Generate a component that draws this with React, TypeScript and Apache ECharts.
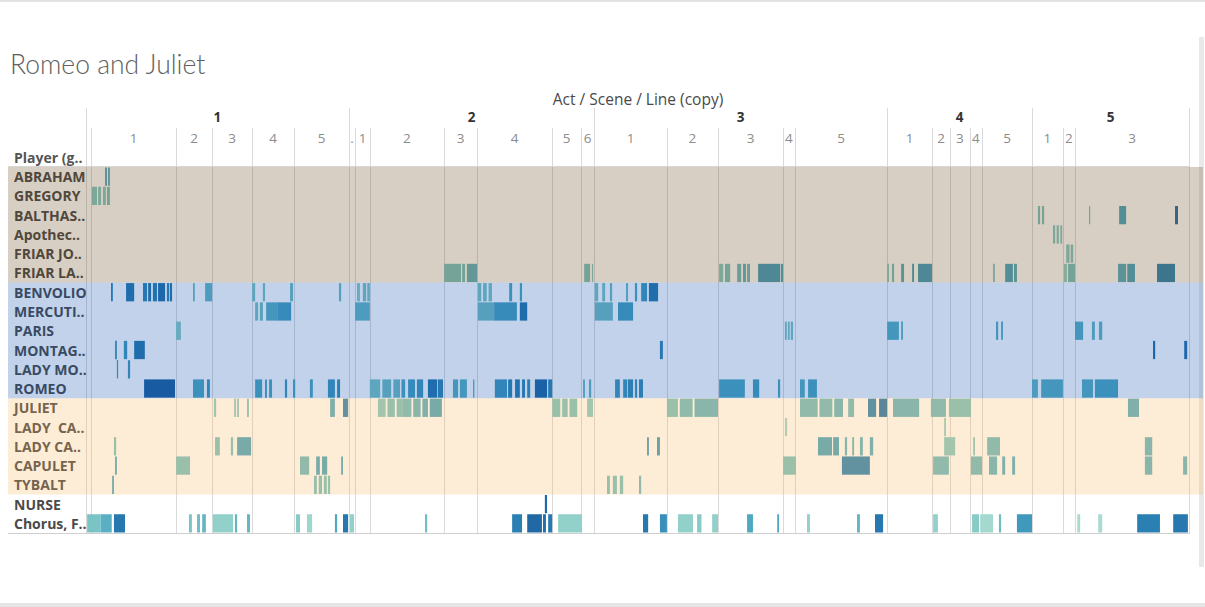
import React, { useEffect, useRef } from 'react';
import * as echarts from 'echarts';

// ---------- DATA ----------
const actLabels = ['1', '2', '3', '4', '5'];
const sceneActs = [1, 1, 1, 1, 1, 1, 2, 2, 2, 2, 2, 2, 2, 3, 3, 3, 3, 3, 4, 4, 4, 4, 4, 5, 5, 5];
const sceneLabels = ['', '1', '2', '3', '4', '5', '.', '1', '2', '3', '4', '5', '6', '1', '2', '3', '4', '5', '1', '2', '3', '4', '5', '1', '2', '3'];
const sceneLines = [14, 231, 98, 109, 114, 149, 17, 40, 202, 90, 204, 78, 36, 198, 139, 177, 32, 251, 122, 49, 54, 33, 136, 84, 33, 310];

const players = ['ABRAHAM', 'GREGORY', 'BALTHAS..', 'Apothec..', 'FRIAR JO..', 'FRIAR LA..', 'BENVOLIO', 'MERCUTI..', 'PARIS', 'MONTAG..', 'LADY MO..', 'ROMEO', 'JULIET', 'LADY  CA..', 'LADY CA..', 'CAPULET', 'TYBALT', 'NURSE', 'Chorus, F..'];
const playerHouse = ['Other', 'Other', 'Other', 'Other', 'Other', 'Other', 'Montague', 'Montague', 'Montague', 'Montague', 'Montague', 'Montague', 'Capulet', 'Capulet', 'Capulet', 'Capulet', 'Capulet', 'None', 'None'];

// [startLine, endLine, intensity]
const abraham = [[52, 57, 0.5], [60, 65, 0.45]];
const gregory = [[16, 30, 0.25], [33, 41, 0.25], [46, 54, 0.25], [57, 65, 0.3]];
const balthasar = [[2589, 2595, 0.3], [2600, 2606, 0.3], [2728, 2731, 0.3], [2810, 2829, 0.5], [2962, 2970, 0.85]];
const apothecary = [[2630, 2636, 0.25], [2640, 2646, 0.25], [2650, 2655, 0.25]];
const friarJohn = [[2666, 2675, 0.25], [2678, 2685, 0.25]];
const friarLaurence = [[974, 1020, 0.3], [1023, 1031, 0.3], [1036, 1064, 0.4], [1355, 1371, 0.3], [1376, 1379, 0.25], [1722, 1733, 0.25], [1738, 1752, 0.3], [1771, 1782, 0.35], [1787, 1795, 0.4], [1798, 1806, 0.35], [1828, 1888, 0.55], [1890, 1896, 0.5], [2179, 2184, 0.25], [2192, 2198, 0.3], [2217, 2225, 0.45], [2247, 2252, 0.55], [2263, 2301, 0.55], [2467, 2472, 0.25], [2500, 2521, 0.5], [2524, 2532, 0.45], [2660, 2668, 0.2], [2671, 2690, 0.3], [2807, 2829, 0.45], [2832, 2853, 0.5], [2913, 2962, 0.7]];
const benvolio = [[68, 73, 0.7], [109, 131, 0.8], [155, 166, 0.7], [169, 177, 0.8], [182, 193, 0.75], [196, 215, 0.85], [220, 226, 0.7], [228, 234, 0.8], [291, 296, 0.35], [324, 343, 0.4], [452, 460, 0.3], [481, 487, 0.3], [555, 563, 0.35], [688, 694, 0.35], [737, 745, 0.25], [753, 762, 0.3], [765, 772, 0.3], [1066, 1075, 0.3], [1080, 1090, 0.3], [1095, 1104, 0.3], [1151, 1159, 0.5], [1180, 1186, 0.5], [1384, 1393, 0.3], [1404, 1412, 0.3], [1425, 1431, 0.35], [1469, 1474, 0.4], [1493, 1499, 0.5], [1510, 1526, 0.6], [1531, 1556, 0.8]];
const mercutio = [[460, 468, 0.3], [473, 481, 0.35], [490, 520, 0.45], [520, 558, 0.55], [732, 772, 0.4], [1066, 1110, 0.35], [1110, 1172, 0.55], [1180, 1200, 0.8], [1384, 1433, 0.35], [1447, 1488, 0.55]];
const paris = [[245, 258, 0.25], [1901, 1906, 0.3], [1909, 1914, 0.3], [1917, 1923, 0.3], [2179, 2211, 0.45], [2217, 2222, 0.4], [2475, 2481, 0.45], [2489, 2494, 0.45], [2690, 2712, 0.45], [2736, 2744, 0.4], [2755, 2764, 0.4]];
const montague = [[79, 84, 0.6], [103, 112, 0.6], [131, 160, 0.8], [1561, 1569, 0.7], [2902, 2908, 0.85], [2987, 2995, 0.85]];
const ladyMontague = [[84, 87, 0.6], [114, 120, 0.6]];
const romeo = [[158, 242, 0.95], [291, 321, 0.5], [329, 337, 0.6], [460, 479, 0.5], [487, 492, 0.55], [498, 506, 0.5], [541, 547, 0.6], [563, 569, 0.5], [609, 617, 0.5], [658, 677, 0.6], [683, 691, 0.65], [772, 800, 0.3], [806, 830, 0.35], [836, 854, 0.35], [858, 868, 0.5], [876, 895, 0.55], [900, 917, 0.6], [930, 955, 0.8], [957, 971, 0.7], [998, 1012, 0.45], [1017, 1036, 0.45], [1053, 1055, 0.5], [1112, 1145, 0.6], [1148, 1159, 0.7], [1167, 1180, 0.75], [1186, 1194, 0.7], [1200, 1208, 0.65], [1221, 1254, 0.9], [1257, 1268, 0.7], [1352, 1357, 0.4], [1368, 1374, 0.4], [1439, 1452, 0.6], [1461, 1472, 0.6], [1474, 1488, 0.65], [1493, 1499, 0.6], [1504, 1515, 0.65], [1722, 1792, 0.5], [1814, 1831, 0.55], [1882, 1888, 0.5], [1942, 1955, 0.45], [1964, 1988, 0.5], [2573, 2589, 0.4], [2598, 2657, 0.45], [2709, 2739, 0.45], [2744, 2807, 0.5]];
const juliet = [[348, 354, 0.25], [403, 408, 0.25], [411, 416, 0.25], [438, 443, 0.3], [664, 677, 0.45], [699, 713, 0.7], [794, 815, 0.25], [820, 840, 0.3], [845, 860, 0.3], [860, 885, 0.35], [890, 910, 0.4], [915, 930, 0.45], [935, 968, 0.5], [1268, 1290, 0.3], [1295, 1310, 0.3], [1315, 1336, 0.3], [1363, 1379, 0.25], [1580, 1610, 0.3], [1615, 1650, 0.35], [1655, 1719, 0.4], [1942, 1990, 0.35], [1995, 2030, 0.35], [2035, 2059, 0.4], [2073, 2089, 0.35], [2127, 2149, 0.7], [2157, 2179, 0.8], [2195, 2266, 0.4], [2298, 2339, 0.35], [2347, 2407, 0.3], [2834, 2864, 0.45]];
const ladyCapuletA = [[1901, 1907, 0.15], [2334, 2339, 0.2]];
const ladyCapuletB = [[76, 82, 0.3], [351, 364, 0.3], [394, 400, 0.3], [411, 449, 0.5], [1526, 1531, 0.6], [1553, 1561, 0.6], [1991, 2029, 0.5], [2032, 2048, 0.5], [2064, 2070, 0.4], [2084, 2089, 0.4], [2105, 2113, 0.4], [2132, 2141, 0.45], [2334, 2364, 0.25], [2413, 2418, 0.25], [2451, 2486, 0.35], [2880, 2900, 0.4]];
const capulet = [[79, 84, 0.5], [245, 283, 0.3], [582, 607, 0.35], [626, 636, 0.5], [642, 656, 0.5], [694, 699, 0.5], [1896, 1931, 0.3], [2056, 2132, 0.7], [2304, 2347, 0.35], [2407, 2437, 0.35], [2456, 2478, 0.4], [2492, 2500, 0.45], [2519, 2527, 0.45], [2880, 2900, 0.4], [2984, 2995, 0.4]];
const tybalt = [[71, 76, 0.5], [620, 628, 0.3], [633, 642, 0.3], [647, 655, 0.3], [658, 664, 0.3], [1417, 1425, 0.3], [1433, 1444, 0.3], [1452, 1461, 0.3], [1504, 1510, 0.35]];
const nurse = [[1248, 1254, 0.9]];
const chorus = [[3, 40, 0.3], [40, 70, 0.45], [76, 106, 0.8], [280, 288, 0.3], [302, 310, 0.35], [316, 326, 0.4], [345, 400, 0.2], [405, 411, 0.4], [438, 446, 0.4], [571, 582, 0.25], [601, 615, 0.15], [677, 683, 0.5], [699, 713, 0.8], [718, 729, 0.2], [922, 928, 0.35], [1159, 1186, 0.75], [1200, 1240, 0.9], [1243, 1251, 0.85], [1257, 1268, 0.8], [1284, 1349, 0.2], [1515, 1529, 0.8], [1561, 1580, 0.65], [1610, 1651, 0.2], [1662, 1674, 0.25], [1703, 1719, 0.2], [1798, 1814, 0.5], [1880, 1885, 0.5], [1961, 1969, 0.2], [2097, 2105, 0.4], [2146, 2168, 0.8], [2304, 2317, 0.2], [2410, 2429, 0.25], [2432, 2467, 0.12], [2483, 2489, 0.35], [2532, 2573, 0.6], [2696, 2704, 0.1], [2753, 2764, 0.1], [2859, 2921, 0.75], [2957, 2997, 0.8]];

const speeches = [abraham, gregory, balthasar, apothecary, friarJohn, friarLaurence, benvolio, mercutio, paris, montague, ladyMontague, romeo, juliet, ladyCapuletA, ladyCapuletB, capulet, tybalt, nurse, chorus];

// ---------- STYLE ----------
const FONT = 'Lato, "Open Sans", sans-serif';
const LABEL_FONT = '"Open Sans", Lato, sans-serif';
const palette = ['#c0e6d8', '#86cbc6', '#4ea8c2', '#2a7fb3', '#1b5a9c'];
const houseColor: Record<string, string> = { Other: '#633f13', Montague: '#074bab', Capulet: '#f7b35b' };

export default function App() {
  const ref = useRef<HTMLDivElement>(null);
  useEffect(() => {
    const chart = echarts.init(ref.current!, null, { renderer: 'svg' });

    const sceneStart: number[] = [];
    let acc = 0;
    sceneLines.forEach((n) => { sceneStart.push(acc); acc += n; });
    const total = acc;
    const actStart: number[] = [];
    const actEnd: number[] = [];
    sceneActs.forEach((a, i) => {
      if (actStart[a - 1] === undefined) actStart[a - 1] = sceneStart[i];
      actEnd[a - 1] = sceneStart[i] + sceneLines[i];
    });

    const boundaryData: number[][] = [];
    sceneStart.forEach((s, i) => {
      const isAct = i === 0 || sceneActs[i] !== sceneActs[i - 1];
      boundaryData.push([s, isAct ? 1 : 0]);
    });
    boundaryData.push([total, 1]);

    const headerText: string[] = [];
    const headerData: number[][] = [];
    actLabels.forEach((l, i) => { headerText.push(l); headerData.push([(actStart[i] + actEnd[i]) / 2, 1]); });
    sceneLabels.forEach((l, i) => { headerText.push(l); headerData.push([sceneStart[i] + sceneLines[i] / 2, 0]); });

    const markData: number[][] = [];
    speeches.forEach((rows, p) => rows.forEach((r) => markData.push([r[0], r[1], p, r[2]])));

    const bandData: number[][] = [];
    const bandColors: string[] = [];
    let i0 = 0;
    for (let i = 1; i <= players.length; i++) {
      if (i === players.length || playerHouse[i] !== playerHouse[i0]) {
        if (houseColor[playerHouse[i0]]) { bandData.push([0, i0, i - 1]); bandColors.push(houseColor[playerHouse[i0]]); }
        i0 = i;
      }
    }

    const option: any = {
      animation: false,
      backgroundColor: '#ffffff',
      title: {
        text: 'Romeo and Juliet', left: 10, top: 50, padding: 0,
        textStyle: { fontFamily: FONT, fontSize: 26.5, fontWeight: 300, color: '#606060' },
      },
      grid: { left: 86, top: 167, width: 1103, height: 366 },
      xAxis: { type: 'value', min: 0, max: total, show: false },
      yAxis: {
        type: 'category', data: players, inverse: true,
        axisLine: { show: false }, axisTick: { show: false }, splitLine: { show: false },
        axisLabel: { align: 'left', margin: 72, fontFamily: LABEL_FONT, fontSize: 14, fontWeight: 'bold', color: '#4a4a4a' },
      },
      visualMap: {
        type: 'continuous', show: false, dimension: 3, min: 0, max: 1, seriesIndex: 1,
        inRange: { color: palette },
      },
      graphic: [
        { type: 'rect', shape: { x: 0, y: 0, width: 1205, height: 2 }, style: { fill: '#e2e2e2' }, silent: true },
        { type: 'rect', shape: { x: 0, y: 603, width: 1205, height: 4 }, style: { fill: '#e6e6e6' }, silent: true },
        { type: 'rect', shape: { x: 1199, y: 37, width: 5, height: 530 }, style: { fill: '#e8e8e8' }, silent: true },
        { type: 'text', x: 638, y: 99, style: { text: 'Act / Scene / Line (copy)', fontFamily: LABEL_FONT, fontSize: 15.5, fill: '#4a4a4a', align: 'center', verticalAlign: 'middle' } },
        { type: 'text', x: 14, y: 157, style: { text: 'Player (g..', fontFamily: LABEL_FONT, fontSize: 14, fontWeight: 'bold', fill: '#555555', align: 'left', verticalAlign: 'middle' } },
        { type: 'line', shape: { x1: 8, y1: 166.5, x2: 1190, y2: 166.5 }, style: { stroke: '#d6d6d6', lineWidth: 1 }, silent: true },
        { type: 'line', shape: { x1: 8, y1: 533.5, x2: 1190, y2: 533.5 }, style: { stroke: '#d0d0d0', lineWidth: 1 }, silent: true },
      ],
      series: [
        {
          type: 'custom', name: 'boundaries', z: 1, silent: true,
          data: boundaryData, encode: { x: 0 },
          renderItem: (params: any, api: any) => {
            const cs = params.coordSys;
            const x = Math.round(api.coord([api.value(0), 0])[0]) + 0.5;
            const isAct = api.value(1) === 1;
            return {
              type: 'line',
              shape: { x1: x, y1: cs.y - (isAct ? 59 : 39), x2: x, y2: cs.y + cs.height },
              style: { stroke: '#dadada', lineWidth: 1 },
            };
          },
        },
        {
          type: 'custom', name: 'Lines spoken', z: 2,
          dimensions: ['start', 'end', 'player', 'words'],
          data: markData, encode: { x: [0, 1], y: 2 },
          renderItem: (params: any, api: any) => {
            const row = api.value(2);
            const p0 = api.coord([api.value(0), row]);
            const p1 = api.coord([api.value(1), row]);
            const h = api.size([0, 1])[1];
            return {
              type: 'rect',
              shape: { x: p0[0], y: p0[1] - h / 2 + 0.5, width: Math.max(p1[0] - p0[0], 1.2), height: h - 1 },
              style: { fill: api.visual('color') },
            };
          },
        },
        {
          type: 'custom', name: 'headers', z: 3, silent: true,
          data: headerData, encode: { x: 0 },
          renderItem: (params: any, api: any) => {
            const cs = params.coordSys;
            const x = api.coord([api.value(0), 0])[0];
            const isAct = api.value(1) === 1;
            return {
              type: 'text', x, y: cs.y - (isAct ? 50 : 29),
              style: {
                text: headerText[params.dataIndex], fontFamily: LABEL_FONT, fontSize: 13.5,
                fontWeight: isAct ? 'bold' : 'normal', fill: isAct ? '#333333' : '#8c8c8c',
                align: 'center', verticalAlign: 'middle',
              },
            };
          },
        },
        {
          type: 'custom', name: 'house bands', z: 10, silent: true,
          data: bandData, encode: { x: 0, y: [1, 2] },
          renderItem: (params: any, api: any) => {
            const cs = params.coordSys;
            const h = api.size([0, 1])[1];
            const top = api.coord([0, api.value(1)])[1] - h / 2;
            const bottom = api.coord([0, api.value(2)])[1] + h / 2;
            return {
              type: 'rect',
              shape: { x: cs.x - 78, y: top, width: cs.width + 92, height: bottom - top },
              style: { fill: bandColors[params.dataIndex], opacity: 0.25 },
            };
          },
        },
      ],
    };
    chart.setOption(option);
    return () => chart.dispose();
  }, []);
  return <div ref={ref} style={{ position: 'fixed', left: 0, top: 0, width: 1205, height: 607, background: '#fff' }} />;
}
